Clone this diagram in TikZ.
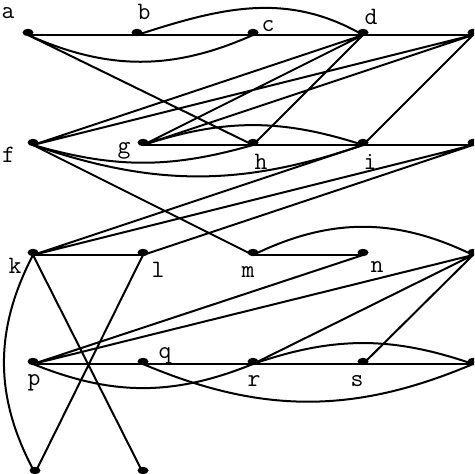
\documentclass[tikz,border=0pt]{standalone}
\usepackage{fontspec}
\begin{document}
\begin{tikzpicture}[x=0.5pt, y=0.5pt, line width=1pt, line join=round, line cap=round,
 lbl/.style={font=\ttfamily\fontsize{12.5}{14}\selectfont, inner sep=0pt, anchor=center}]
 \def\ya{-35} \def\yb{-145} \def\yc{-255} \def\yd{-364} \def\ye{-473}
 \useasboundingbox (0,0) rectangle (474,-474);
 \clip (0,0) rectangle (474,-474);
 % grid points
 \coordinate (a) at (28,\ya); \coordinate (b) at (137,\ya); \coordinate (c) at (253,\ya);
 \coordinate (d) at (363,\ya); \coordinate (e) at (473,\ya);
 \coordinate (f) at (33,\yb); \coordinate (g) at (143,\yb); \coordinate (h) at (253,\yb);
 \coordinate (i) at (363,\yb); \coordinate (j) at (473,\yb);
 \coordinate (k) at (33,\yc); \coordinate (l) at (143,\yc); \coordinate (m) at (253,\yc);
 \coordinate (n) at (363,\yc); \coordinate (o) at (473,\yc);
 \coordinate (p) at (33,\yd); \coordinate (q) at (143,\yd); \coordinate (r) at (253,\yd);
 \coordinate (s) at (363,\yd); \coordinate (t) at (473,\yd);
 \coordinate (u) at (35,\ye); \coordinate (v) at (143,\ye);
 % rows
 \draw (a)--(b)--(c)--(d)--(e);
 \draw (g)--(h)--(i)--(j);
 \draw (k)--(l) (m)--(n);
 \draw (p)--(q)--(r)--(s)--(t);
 % straight edges
 \draw (a)--(h) (d)--(f) (d)--(g) (d)--(h) (e)--(f) (e)--(g) (e)--(i);
 \draw (f)--(m) (i)--(k) (j)--(k) (j)--(l);
 \draw (n)--(p) (o)--(p) (o)--(r) (o)--(s);
 \draw (k)--(v) (l)--(u);
 % bent edges
 \draw (b) to[out=18,in=150] (d);
 \draw (a) to[bend right=24] (c);
 \draw (g) to[bend left=18] (i);
 \draw (f) to[bend right=16] (h);
 \draw (f) to[bend right=19] (i);
 \draw (m) to[bend left=26] (o);
 \draw (r) to[bend left=19] (t);
 \draw (p) to[bend right=22] (r);
 \draw (q) to[bend right=23] (t);
 \draw (k) to[bend right=28] (u);
 \foreach \v in {a,...,v} \fill (\v) ++(0,2.5) ellipse [x radius=5.5, y radius=3.7];
 \path
 (a) ++(-20,22) node[lbl] (ta) {a}
 (b) ++(7,23.5) node[lbl] (tb) {b}
 (c) ++(15,8.5) node[lbl] (tc) {c}
 (d) ++(8,18) node[lbl] (td) {d}
 (f) ++(-24.5,-10) node[lbl] (tf) {f}
 (g) ++(-19,-5.5) node[lbl] (tg) {g}
 (h) ++(8,-16.5) node[lbl] (th) {h}
 (i) ++(7,-16.5) node[lbl] (ti) {i}
 (k) ++(-18,-11) node[lbl] (tk) {k}
 (l) ++(15,-15) node[lbl] (tl) {l}
 (m) ++(-5,-17) node[lbl] (tm) {m}
 (n) ++(14,-12) node[lbl] (tn) {n}
 (p) ++(1,-18.5) node[lbl] (tp) {p}
 (q) ++(22,8.5) node[lbl] (tq) {q}
 (r) ++(1,-17) node[lbl] (tr) {r}
 (s) ++(-6,-17) node[lbl] (ts) {s};
\end{tikzpicture}
\end{document}
